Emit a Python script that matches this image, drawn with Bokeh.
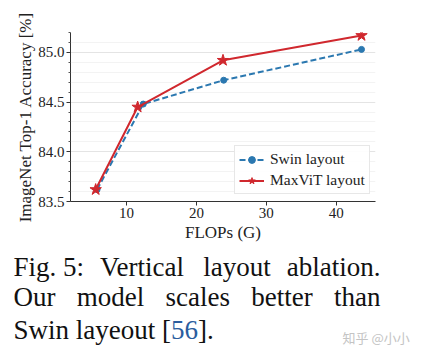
from bokeh.plotting import figure
from bokeh.models import FixedTicker, Label, Range1d, Legend, LegendItem
from bokeh.layouts import column
from bokeh.embed import file_html
from bokeh.resources import INLINE

swin_flops = [5.8, 12.4, 23.9, 43.6]
swin_acc = [83.62, 84.48, 84.72, 85.03]
maxvit_flops = [5.6, 11.6, 23.8, 43.6]
maxvit_acc = [83.62, 84.45, 84.92, 85.17]
x_ticks = [10, 20, 30, 40]
y_ticks = [83.5, 84.0, 84.5, 85.0]
y_tick_labels = ["83.5", "84.0", "84.5", "85.0"]
y_minor = [83.6, 83.7, 83.8, 83.9, 84.1, 84.2, 84.3, 84.4, 84.6, 84.7, 84.8, 84.9, 85.1, 85.2]
caption_lines = [
    ["Fig. 5:", "Vertical", "layout", "ablation."],
    ["Our", "model", "scales", "better", "than"],
    ["Swin", "layeout", "[", "56", "]."],
]

BLUE = "#2b78b0"
RED = "#d0282e"
SERIF = "Liberation Serif"
W = 415

p = figure(width=W, height=244, output_backend="svg", toolbar_location=None,
           x_range=Range1d(2.0, 45.6), y_range=Range1d(83.5, 85.2),
           min_border_left=70, min_border_right=40, min_border_top=32, min_border_bottom=42)
p.frame_align = False
p.outline_line_color = None
p.background_fill_color = "white"

p.xaxis.ticker = FixedTicker(ticks=x_ticks)
p.yaxis.ticker = FixedTicker(ticks=y_ticks, minor_ticks=y_minor)
p.yaxis.major_label_overrides = {v: s for v, s in zip(y_ticks, y_tick_labels)}
for ax in (p.xaxis[0], p.yaxis[0]):
    ax.axis_line_color = "#333333"
    ax.major_tick_line_color = "#333333"
    ax.major_tick_in = 0
    ax.major_tick_out = 4
    ax.major_label_text_font = SERIF
    ax.major_label_text_font_size = "15px"
    ax.major_label_text_color = "#222222"
    ax.axis_label_text_font = SERIF
    ax.axis_label_text_font_size = "17px"
    ax.axis_label_text_font_style = "normal"
    ax.axis_label_text_color = "#222222"
p.xaxis.minor_tick_line_color = None
p.yaxis.minor_tick_line_color = "#555555"
p.yaxis.minor_tick_in = 0
p.yaxis.minor_tick_out = 2
p.xaxis.major_label_standoff = 2
p.yaxis.major_label_standoff = 2
p.xaxis.axis_label = "FLOPs (G)"
p.yaxis.axis_label = "ImageNet Top-1 Accuracy [%]"
p.xaxis.axis_label_standoff = 2
p.yaxis.axis_label_standoff = 0

p.xgrid.grid_line_color = None
p.ygrid.grid_line_color = "#e4e4e4"
p.ygrid.minor_grid_line_color = "#f3f3f3"

l1 = p.line(swin_flops, swin_acc, color=BLUE, line_width=2, line_dash="6 3")
s1 = p.scatter(swin_flops, swin_acc, color=BLUE, size=6, marker="circle")
l2 = p.line(maxvit_flops, maxvit_acc, color=RED, line_width=2)
s2 = p.scatter(maxvit_flops, maxvit_acc, color=RED, size=12, marker="star")

legend = Legend(items=[LegendItem(label="Swin layout", renderers=[l1, s1]),
                       LegendItem(label="MaxViT layout", renderers=[l2, s2])],
                location=(164, 7))
legend.label_text_font = SERIF
legend.label_text_font_size = "15.5px"
legend.label_text_color = "#222222"
legend.border_line_color = "#d0d0d0"
legend.border_line_width = 1
legend.background_fill_alpha = 0.9
legend.glyph_width = 25
legend.glyph_height = 17
legend.label_height = 17
legend.spacing = 3
legend.padding = 4
legend.margin = 0
legend.label_standoff = 6
p.add_layout(legend, "center")

# caption panel: pixel-like coordinates, y grows downward
CAP_H = 112
c = figure(width=W, height=CAP_H, output_backend="svg", toolbar_location=None, title=None,
           x_range=Range1d(0, W), y_range=Range1d(CAP_H, 0),
           x_axis_location=None, y_axis_location=None,
           min_border_left=0, min_border_right=0, min_border_top=0, min_border_bottom=0)
c.frame_align = False
c.outline_line_color = None
c.xgrid.grid_line_color = None
c.ygrid.grid_line_color = None

# Times/Liberation Serif advance widths (1/1000 em) used to justify the caption
ADV = {" ": 250, "F": 556, "i": 278, "g": 500, ".": 250, "5": 500, ":": 278, "V": 722,
       "e": 444, "r": 333, "t": 278, "c": 444, "a": 444, "l": 278, "y": 500, "o": 500,
       "u": 500, "b": 500, "n": 500, "O": 722, "m": 778, "d": 500, "s": 389, "h": 500,
       "S": 556, "w": 722, "[": 333, "6": 500, "]": 333}
FS = 27.0
def wlen(s):
    return sum(ADV.get(ch, 500) for ch in s) * FS / 1000.0

INK = "#111111"
CITE = "#2a5d9e"
LEFT, RIGHT = 13.0, 380.0
baselines = [22, 52, 85]
for li, (words, yb) in enumerate(zip(caption_lines, baselines)):
    if li < 2:
        gap = (RIGHT - LEFT - sum(wlen(w) for w in words)) / (len(words) - 1)
        gaps = [gap] * (len(words) - 1)
    else:
        sp = wlen(" ")
        gaps = [sp, sp, 0, 0]
    x = LEFT
    for wi, w in enumerate(words):
        col = CITE if w == "56" else INK
        c.add_layout(Label(x=x, y=yb, text=w, text_font=SERIF, text_font_size=f"{FS}px",
                           text_color=col, text_align="left", text_baseline="alphabetic"))
        x += wlen(w) + (gaps[wi] if wi < len(gaps) else 0)
c.add_layout(Label(x=342, y=93, text="知乎 @小小", text_font="Noto Sans CJK SC",
                   text_font_size="13px", text_color="#c4c4c4", text_baseline="middle"))

open("out.html", "w").write(file_html(column(p, c, spacing=0), INLINE))
